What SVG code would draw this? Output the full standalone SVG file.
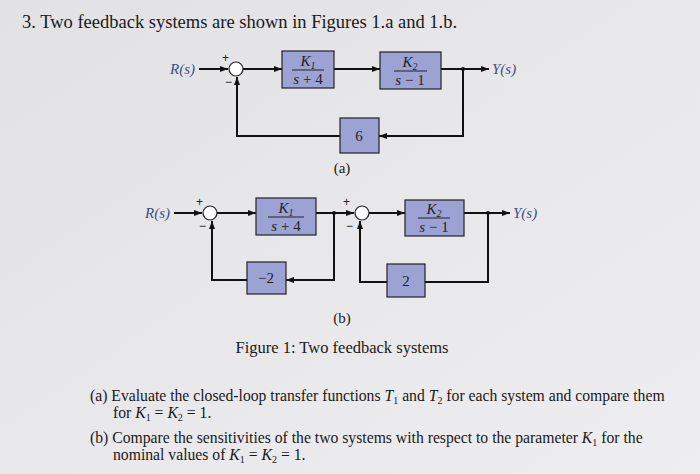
<svg xmlns="http://www.w3.org/2000/svg" width="700" height="474" viewBox="0 0 700 474">
<defs>
<linearGradient id="bg" x1="0" y1="0" x2="1" y2="1"><stop offset="0" stop-color="#e2e1e4"/><stop offset="1" stop-color="#eeedf0"/></linearGradient>
<marker id="ah" markerWidth="8" markerHeight="6" refX="8" refY="3" orient="auto" markerUnits="userSpaceOnUse"><path d="M0,0 L8,3 L0,6 z" fill="#111"/></marker>
</defs>
<style>
.t{font-family:"Liberation Serif",serif;fill:#1a1a1a}
.m{font-size:18.5px}
.lb{font-family:"Liberation Serif",serif;font-style:italic;font-size:15px;fill:#3b4f8a}
.bx{fill:#9da2d4;stroke:#222;stroke-width:1.2}
.bt{font-family:"Liberation Serif",serif;font-size:15px;fill:#222;text-anchor:middle}
.c{fill:#fff;stroke:#222;stroke-width:1.2}
.w{fill:none;stroke:#111;stroke-width:2}
.a{marker-end:url(#ah)}
.s{font-family:"Liberation Sans",sans-serif;font-size:12px;fill:#222}
</style>
<rect width="700" height="474" fill="url(#bg)"/>
<text class="t m" x="22" y="28">3. Two feedback systems are shown in Figures 1.a and 1.b.</text>

<g id="connectors">
<path class="w a" d="M199,69 H228"/>
<path class="w a" d="M243,69 H282"/>
<path class="w a" d="M334,69 H380"/>
<path class="w a" d="M441,69 H489"/>
<path class="w a" d="M463,69 V136 H379"/>
<path class="w a" d="M340,136 H237 V77"/>
<circle cx="463" cy="69" r="2" fill="#111"/>

<path class="w a" d="M174,213 H202"/>
<path class="w a" d="M217,213 H256"/>
<path class="w a" d="M316,213 H354"/>
<path class="w a" d="M369,213 H405"/>
<path class="w a" d="M464,213 H510"/>
<path class="w a" d="M334,213 V280 H286"/>
<path class="w a" d="M247,280 H212 V221"/>
<path class="w" d="M488,213 V282 H425"/>
<path class="w a" d="M387,282 H360 V221"/>
<circle cx="334" cy="213" r="2" fill="#111"/>
<circle cx="488" cy="213" r="2" fill="#111"/>
</g>

<g id="a-labels">
<text class="lb" x="170" y="74">R(s)</text>
<text class="lb" x="492" y="74">Y(s)</text>
<text class="s" x="222" y="62">+</text>
<text class="s" x="225" y="86">−</text>
</g>
<g id="a-sum"><circle class="c" cx="236" cy="69" r="7"/></g>
<g id="a-g1"><rect class="bx" x="282" y="51" width="52" height="37"/><text class="bt" x="308" y="66" font-style="italic">K<tspan font-size="10" dy="3">1</tspan></text><line x1="292" y1="70" x2="324" y2="70" stroke="#222"/><text class="bt" x="308" y="84"><tspan font-style="italic">s</tspan> + 4</text></g>
<g id="a-g2"><rect class="bx" x="380" y="52" width="61" height="37"/><text class="bt" x="410" y="67" font-style="italic">K<tspan font-size="10" dy="3">2</tspan></text><line x1="394" y1="71" x2="427" y2="71" stroke="#222"/><text class="bt" x="410" y="85"><tspan font-style="italic">s</tspan> − 1</text></g>
<g id="a-h"><rect class="bx" x="340" y="118" width="39" height="35"/><text class="bt" x="359" y="141">6</text></g>
<text class="t" x="342" y="173" font-size="15" text-anchor="middle">(a)</text>

<g id="b-labels">
<text class="lb" x="145" y="218">R(s)</text>
<text class="lb" x="513" y="218">Y(s)</text>
<text class="s" x="196" y="206">+</text>
<text class="s" x="199" y="230">−</text>
<text class="s" x="343" y="206">+</text>
<text class="s" x="346" y="230">−</text>
</g>
<g id="b-sum1"><circle class="c" cx="210" cy="213" r="7"/></g>
<g id="b-sum2"><circle class="c" cx="362" cy="213" r="7"/></g>
<g id="b-g1"><rect class="bx" x="256" y="198" width="60" height="37"/><text class="bt" x="286" y="213" font-style="italic">K<tspan font-size="10" dy="3">1</tspan></text><line x1="268" y1="217" x2="304" y2="217" stroke="#222"/><text class="bt" x="286" y="231"><tspan font-style="italic">s</tspan> + 4</text></g>
<g id="b-g2"><rect class="bx" x="405" y="200" width="59" height="36"/><text class="bt" x="434" y="214" font-style="italic">K<tspan font-size="10" dy="3">2</tspan></text><line x1="418" y1="218" x2="450" y2="218" stroke="#222"/><text class="bt" x="434" y="232"><tspan font-style="italic">s</tspan> − 1</text></g>
<g id="b-h1"><rect class="bx" x="247" y="262" width="39" height="32"/><text class="bt" x="266" y="283">−2</text></g>
<g id="b-h2"><rect class="bx" x="387" y="264" width="38" height="33"/><text class="bt" x="406" y="286">2</text></g>
<text class="t" x="342" y="323" font-size="15" text-anchor="middle">(b)</text>

<text class="t" x="342" y="353" font-size="16.5" text-anchor="middle">Figure 1: Two feedback systems</text>
<text class="t" x="90" y="401" font-size="15.7">(a) Evaluate the closed-loop transfer functions <tspan font-style="italic">T</tspan><tspan font-size="10" dy="3">1</tspan><tspan dy="-3"> and </tspan><tspan font-style="italic">T</tspan><tspan font-size="10" dy="3">2</tspan><tspan dy="-3"> for each system and compare them</tspan></text>
<text class="t" x="113" y="418" font-size="15.7">for <tspan font-style="italic">K</tspan><tspan font-size="10" dy="3">1</tspan><tspan dy="-3"> = </tspan><tspan font-style="italic">K</tspan><tspan font-size="10" dy="3">2</tspan><tspan dy="-3"> = 1.</tspan></text>
<text class="t" x="90" y="443" font-size="15.7">(b) Compare the sensitivities of the two systems with respect to the parameter <tspan font-style="italic">K</tspan><tspan font-size="10" dy="3">1</tspan><tspan dy="-3"> for the</tspan></text>
<text class="t" x="113" y="460" font-size="15.7">nominal values of <tspan font-style="italic">K</tspan><tspan font-size="10" dy="3">1</tspan><tspan dy="-3"> = </tspan><tspan font-style="italic">K</tspan><tspan font-size="10" dy="3">2</tspan><tspan dy="-3"> = 1.</tspan></text>
</svg>
